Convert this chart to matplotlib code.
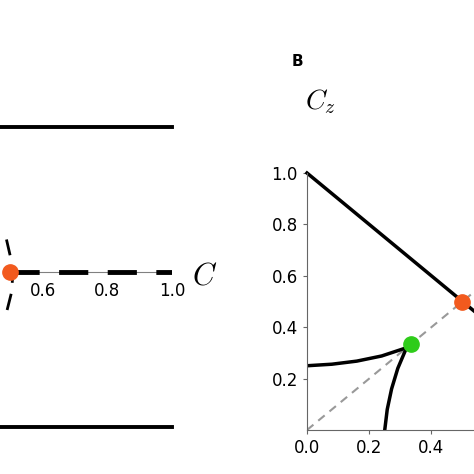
import matplotlib
matplotlib.use("Agg")
import matplotlib.pyplot as plt
import numpy as np

W = H = 474
fig = plt.figure(figsize=(4.74, 4.74), dpi=100)

def ax_px(x0, y0, x1, y1):
    return fig.add_axes([x0 / W, 1 - y1 / H, (x1 - x0) / W, (y1 - y0) / H])

# ---- data
left_ticks = [0.6, 0.8, 1.0]
left_bands = [1.0, -1.0]
arc_y = [-0.22, -0.1, 0.0, 0.1, 0.25]
arc_x = [0.49, 0.504, 0.507, 0.504, 0.488]
fixed_pt = 0.5

right_ticks = [0.0, 0.2, 0.4]
right_yticks = [0.2, 0.4, 0.6, 0.8, 1.0]
line1_x = [0.0, 0.5, 0.54]
line1_y = [1.0, 0.5, 0.46]
c2_x = [0.0, 0.08, 0.16, 0.24, 0.32]
c2_y = [0.25, 0.256, 0.268, 0.288, 0.32]
c3_x = [0.25, 0.258, 0.272, 0.292, 0.32]
c3_y = [0.0, 0.08, 0.16, 0.24, 0.32]
green_pt = 1/3
orange_pt = 0.5

# ---- left panel
axl = ax_px(0, 127, 172, 427)
axl.set_xlim(0.468, 1.0)
axl.set_ylim(-1.0, 1.0)
axl.axis("off")
for b in left_bands:
    axl.axhline(b, color="black", lw=2.8, clip_on=False)
axl.plot([0.5, 1.0], [0.033, 0.033], color="gray", lw=0.8)
axl.plot([0.5, 1.0], [0.033, 0.033], color="black", lw=3.5, dashes=(6, 4))
axl.plot(arc_x, arc_y, color="black", lw=2, dashes=(6, 4), clip_on=False)
axl.plot([fixed_pt], [0.033], "o", color="#f25a1e", ms=11, zorder=5, clip_on=False)
for t in left_ticks:
    axl.text(t, -0.03, f"{t:.1f}", ha="center", va="top", fontsize=12)
fig.text(205 / W, 1 - 276 / H, "$C$", fontsize=22, family="serif",
         ha="center", va="center", math_fontfamily="cm")

# ---- right panel
axr = ax_px(307, 173, 474, 430)
axr.set_xlim(0.0, 0.537)
axr.set_ylim(0.0, 1.0)
for s in ["top", "right"]:
    axr.spines[s].set_visible(False)
for s in ["left", "bottom"]:
    axr.spines[s].set_color("#666666")
axr.set_xticks(right_ticks)
axr.set_yticks(right_yticks)
axr.set_xticklabels([f"{t:.1f}" for t in right_ticks])
axr.set_yticklabels([f"{t:.1f}" for t in right_yticks])
axr.tick_params(labelsize=12, length=3, color="#666666")
axr.plot([0, 0.6], [0, 0.6], color="#999999", lw=1.5, ls=(0, (4, 3)))
axr.plot(line1_x, line1_y, color="black", lw=2.5, clip_on=False)
axr.plot(c2_x, c2_y, color="black", lw=2.5)
axr.plot(c3_x, c3_y, color="black", lw=2.5)
axr.plot([green_pt], [green_pt], "o", color="#2ecc1a", ms=11, zorder=5)
axr.plot([orange_pt], [orange_pt], "o", color="#f25a1e", ms=11, zorder=5, clip_on=False)
fig.text(297 / W, 1 - 62 / H, "B", fontsize=11, fontweight="bold", ha="center", va="center")
fig.text(320 / W, 1 - 102 / H, "$C_z$", fontsize=20, ha="center", va="center",
         math_fontfamily="cm")

fig.savefig("out.png", dpi=100)
